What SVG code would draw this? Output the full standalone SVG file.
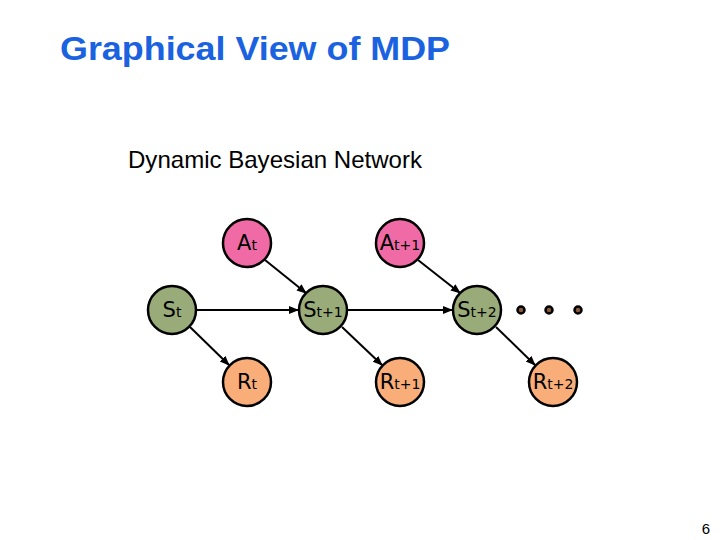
<svg xmlns="http://www.w3.org/2000/svg" width="720" height="540" viewBox="0 0 720 540">
<style>
.n{stroke:#000;stroke-width:2.5}
.a{fill:#f06ba6}.s{fill:#98ab78}.r{fill:#f9ae7a}
.l{font-family:"DejaVu Sans",sans-serif;font-size:21px;text-anchor:middle}
.sub{font-size:14px}
.e{stroke:#000;stroke-width:2;fill:none;marker-end:url(#ah)}
</style>
<defs><marker id="ah" markerWidth="10" markerHeight="10" refX="9" refY="5" orient="auto" markerUnits="userSpaceOnUse"><path d="M0,1 L10,5 L0,9 Z"/></marker></defs>
<rect width="720" height="540" fill="#fff"/>
<text x="60" y="60" font-family="Liberation Sans,sans-serif" font-size="33" font-weight="bold" fill="#1a62e0" textLength="390" lengthAdjust="spacingAndGlyphs">Graphical View of MDP</text>
<text x="128" y="168" font-family="Liberation Sans,sans-serif" font-size="24" textLength="294" lengthAdjust="spacingAndGlyphs">Dynamic Bayesian Network</text>
<g id="edges">
<line class="e" x1="196" y1="310" x2="298" y2="310"/>
<line class="e" x1="347" y1="310" x2="452" y2="310"/>
<line class="e" x1="265" y1="260" x2="306" y2="293"/>
<line class="e" x1="418" y1="260" x2="460" y2="293"/>
<line class="e" x1="190" y1="327" x2="229" y2="365"/>
<line class="e" x1="342" y1="327" x2="382" y2="365"/>
<line class="e" x1="496" y1="327" x2="535" y2="365"/>
</g>
<g id="At"><circle class="n a" cx="247" cy="243" r="24"/><text class="l" x="247" y="250">A<tspan class="sub">t</tspan></text></g>
<g id="At1"><circle class="n a" cx="400" cy="243" r="24"/><text class="l" x="400" y="250">A<tspan class="sub">t+1</tspan></text></g>
<g id="St"><circle class="n s" cx="172" cy="310" r="24"/><text class="l" x="172" y="317">S<tspan class="sub">t</tspan></text></g>
<g id="St1"><circle class="n s" cx="323" cy="310" r="24"/><text class="l" x="323" y="317">S<tspan class="sub">t+1</tspan></text></g>
<g id="St2"><circle class="n s" cx="477" cy="310" r="24"/><text class="l" x="477" y="317">S<tspan class="sub">t+2</tspan></text></g>
<g id="Rt"><circle class="n r" cx="247" cy="382" r="24"/><text class="l" x="247" y="389">R<tspan class="sub">t</tspan></text></g>
<g id="Rt1"><circle class="n r" cx="400" cy="382" r="24"/><text class="l" x="400" y="389">R<tspan class="sub">t+1</tspan></text></g>
<g id="Rt2"><circle class="n r" cx="553" cy="382" r="24"/><text class="l" x="553" y="389">R<tspan class="sub">t+2</tspan></text></g>
<g id="dots" fill="#8a5a3a" stroke="#000" stroke-width="2.5">
<circle cx="521" cy="310" r="3.5"/><circle cx="549" cy="310" r="3.5"/><circle cx="578" cy="310" r="3.5"/>
</g>
<text x="710" y="534" font-family="Liberation Sans,sans-serif" font-size="15" text-anchor="end">6</text>
</svg>
